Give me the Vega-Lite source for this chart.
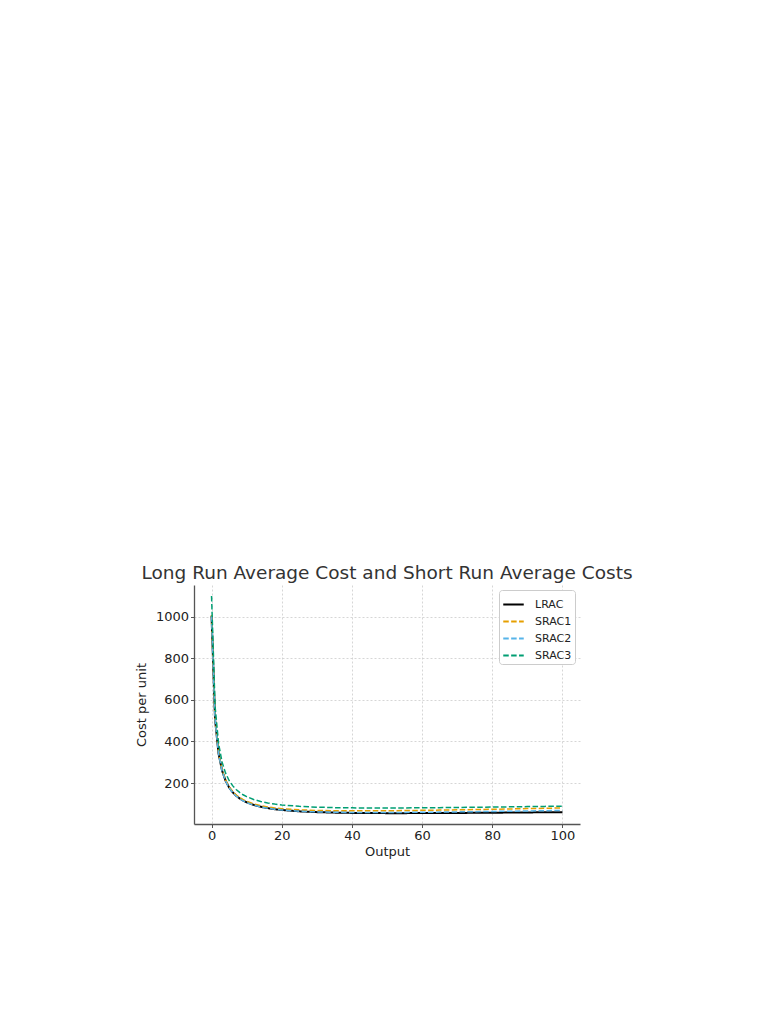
{
  "$schema": "https://vega.github.io/schema/vega-lite/v6.json",
  "autosize": "none",
  "width": 386,
  "height": 239,
  "padding": {"left": 194, "top": 585, "right": 188, "bottom": 200},
  "background": "white",
  "title": {
    "text": "Long Run Average Cost and Short Run Average Costs",
    "font": "DejaVu Sans",
    "fontSize": 18.5,
    "fontWeight": "normal",
    "color": "#333333",
    "anchor": "middle",
    "offset": 3
  },
  "data": {
    "values": [
      {"x": 0, "LRAC": 1005, "SRAC1": 1008, "SRAC2": 1003, "SRAC3": 1100},
      {"x": 1, "LRAC": 507.1, "SRAC1": 510.3, "SRAC2": 505.2, "SRAC3": 570.2},
      {"x": 2, "LRAC": 342.0, "SRAC1": 345.3, "SRAC2": 340.2, "SRAC3": 390.2},
      {"x": 3, "LRAC": 260.0, "SRAC1": 263.5, "SRAC2": 258.3, "SRAC3": 300.8},
      {"x": 4, "LRAC": 211.2, "SRAC1": 214.9, "SRAC2": 209.6, "SRAC3": 247.6},
      {"x": 5, "LRAC": 178.9, "SRAC1": 182.8, "SRAC2": 177.4, "SRAC3": 212.4},
      {"x": 6, "LRAC": 156.1, "SRAC1": 160.1, "SRAC2": 154.7, "SRAC3": 187.6},
      {"x": 7, "LRAC": 139.1, "SRAC1": 143.3, "SRAC2": 137.8, "SRAC3": 169.1},
      {"x": 8, "LRAC": 126.1, "SRAC1": 130.5, "SRAC2": 124.9, "SRAC3": 154.9},
      {"x": 9, "LRAC": 115.8, "SRAC1": 120.3, "SRAC2": 114.7, "SRAC3": 143.7},
      {"x": 10, "LRAC": 107.5, "SRAC1": 112.2, "SRAC2": 106.5, "SRAC3": 134.7},
      {"x": 12, "LRAC": 94.9, "SRAC1": 99.9, "SRAC2": 94.1, "SRAC3": 121.0},
      {"x": 14, "LRAC": 86.1, "SRAC1": 91.5, "SRAC2": 85.5, "SRAC3": 111.5},
      {"x": 16, "LRAC": 79.4, "SRAC1": 85.1, "SRAC2": 79.0, "SRAC3": 104.3},
      {"x": 18, "LRAC": 74.4, "SRAC1": 80.5, "SRAC2": 74.2, "SRAC3": 98.9},
      {"x": 20, "LRAC": 70.5, "SRAC1": 76.9, "SRAC2": 70.5, "SRAC3": 94.8},
      {"x": 25, "LRAC": 64.0, "SRAC1": 71.3, "SRAC2": 64.5, "SRAC3": 88.0},
      {"x": 30, "LRAC": 60.1, "SRAC1": 68.2, "SRAC2": 61.1, "SRAC3": 84.0},
      {"x": 35, "LRAC": 57.8, "SRAC1": 66.8, "SRAC2": 59.3, "SRAC3": 81.8},
      {"x": 40, "LRAC": 56.4, "SRAC1": 66.2, "SRAC2": 58.4, "SRAC3": 80.6},
      {"x": 45, "LRAC": 55.6, "SRAC1": 66.3, "SRAC2": 58.1, "SRAC3": 80.1},
      {"x": 50, "LRAC": 55.3, "SRAC1": 66.8, "SRAC2": 58.3, "SRAC3": 80.1},
      {"x": 55, "LRAC": 55.3, "SRAC1": 67.6, "SRAC2": 58.8, "SRAC3": 80.4},
      {"x": 60, "LRAC": 55.5, "SRAC1": 68.7, "SRAC2": 59.5, "SRAC3": 81.0},
      {"x": 65, "LRAC": 55.8, "SRAC1": 69.9, "SRAC2": 60.3, "SRAC3": 81.7},
      {"x": 70, "LRAC": 56.2, "SRAC1": 71.1, "SRAC2": 61.2, "SRAC3": 82.5},
      {"x": 75, "LRAC": 56.8, "SRAC1": 72.6, "SRAC2": 62.3, "SRAC3": 83.5},
      {"x": 80, "LRAC": 57.3, "SRAC1": 73.9, "SRAC2": 63.3, "SRAC3": 84.4},
      {"x": 85, "LRAC": 58.0, "SRAC1": 75.5, "SRAC2": 64.5, "SRAC3": 85.5},
      {"x": 90, "LRAC": 58.7, "SRAC1": 77.0, "SRAC2": 65.7, "SRAC3": 86.7},
      {"x": 95, "LRAC": 59.4, "SRAC1": 78.6, "SRAC2": 66.9, "SRAC3": 87.8},
      {"x": 100, "LRAC": 60.1, "SRAC1": 80.1, "SRAC2": 68.1, "SRAC3": 89.0}
    ]
  },
  "transform": [
    {"fold": ["LRAC", "SRAC1", "SRAC2", "SRAC3"], "as": ["series", "cost"]}
  ],
  "encoding": {
    "x": {
      "field": "x",
      "type": "quantitative",
      "title": "Output",
      "scale": {"domain": [-5, 105], "nice": false, "zero": false},
      "axis": {"values": [0, 20, 40, 60, 80, 100]}
    },
    "y": {
      "field": "cost",
      "type": "quantitative",
      "title": "Cost per unit",
      "scale": {"domain": [3, 1153], "nice": false, "zero": false},
      "axis": {"values": [200, 400, 600, 800, 1000], "format": "d"}
    },
    "color": {
      "field": "series",
      "type": "nominal",
      "title": null,
      "scale": {
        "domain": ["LRAC", "SRAC1", "SRAC2", "SRAC3"],
        "range": ["#000000", "#E69F00", "#56B4E9", "#009E73"]
      }
    },
    "strokeDash": {
      "field": "series",
      "type": "nominal",
      "title": null,
      "scale": {
        "domain": ["LRAC", "SRAC1", "SRAC2", "SRAC3"],
        "range": [[1, 0], [5.5, 2.4], [5.5, 2.4], [5.5, 2.4]]
      }
    }
  },
  "layer": [
    {
      "transform": [{"filter": "datum.series == 'LRAC'"}],
      "mark": {"type": "line", "clip": true, "strokeWidth": 2}
    },
    {
      "transform": [{"filter": "datum.series != 'LRAC'"}],
      "mark": {"type": "line", "clip": true, "strokeWidth": 1.5}
    }
  ],
  "config": {
    "view": {"stroke": null},
    "font": "DejaVu Sans",
    "axis": {
      "labelFont": "DejaVu Sans",
      "titleFont": "DejaVu Sans",
      "labelFontSize": 13,
      "titleFontSize": 13,
      "titleFontWeight": "normal",
      "labelColor": "#222222",
      "titleColor": "#222222",
      "domainColor": "#555555",
      "domainWidth": 1.3,
      "tickColor": "#555555",
      "tickSize": 3.5,
      "tickWidth": 1,
      "labelPadding": 2,
      "gridColor": "#cccccc",
      "gridDash": [2, 2],
      "gridWidth": 0.8,
      "grid": true
    },
    "axisX": {"titlePadding": 3},
    "axisY": {"titlePadding": 7},
    "legend": {
      "orient": "top-right",
      "offset": 5,
      "padding": 3,
      "fillColor": "white",
      "strokeColor": "#cccccc",
      "cornerRadius": 3,
      "labelFont": "DejaVu Sans",
      "labelFontSize": 11,
      "labelColor": "#222222",
      "labelOffset": 10,
      "symbolType": "stroke",
      "symbolSize": 420,
      "symbolStrokeWidth": 1.8,
      "rowPadding": -4.2
    }
  }
}
